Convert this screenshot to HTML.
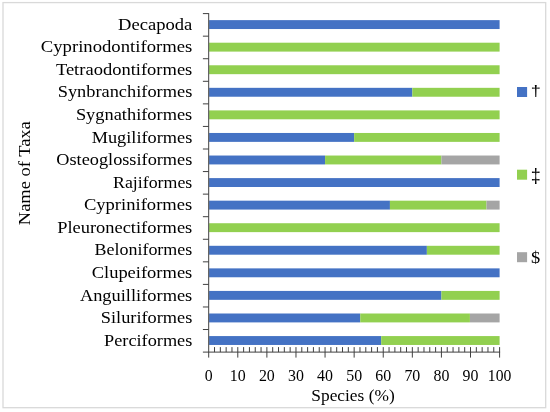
<!DOCTYPE html>
<html lang="en"><head><meta charset="utf-8"><title>Species by Taxa</title>
<style>html,body{margin:0;padding:0;background:#fff}body{width:550px;height:412px;overflow:hidden}svg{display:block}text{font-family:"Liberation Serif","Times New Roman",serif;fill:#000}</style></head><body>
<svg width="550" height="412" viewBox="0 0 550 412">
<rect x="0" y="0" width="550" height="412" fill="#fff"/>
<rect x="3" y="2.6" width="542.7" height="405.1" fill="none" stroke="#d9d9d9" stroke-width="1.3"/>
<rect x="209.10" y="20.13" width="290.50" height="8.90" fill="#4472C4"/>
<rect x="209.10" y="42.70" width="290.50" height="8.90" fill="#92D050"/>
<rect x="209.10" y="65.27" width="290.50" height="8.90" fill="#92D050"/>
<rect x="209.10" y="87.83" width="203.23" height="8.90" fill="#4472C4"/>
<rect x="412.33" y="87.83" width="87.27" height="8.90" fill="#92D050"/>
<rect x="209.10" y="110.40" width="290.50" height="8.90" fill="#92D050"/>
<rect x="209.10" y="132.97" width="145.05" height="8.90" fill="#4472C4"/>
<rect x="354.15" y="132.97" width="145.45" height="8.90" fill="#92D050"/>
<rect x="209.10" y="155.53" width="115.96" height="8.90" fill="#4472C4"/>
<rect x="325.06" y="155.53" width="116.36" height="8.90" fill="#92D050"/>
<rect x="441.42" y="155.53" width="58.18" height="8.90" fill="#A5A5A5"/>
<rect x="209.10" y="178.10" width="290.50" height="8.90" fill="#4472C4"/>
<rect x="209.10" y="200.67" width="180.83" height="8.90" fill="#4472C4"/>
<rect x="389.93" y="200.67" width="96.58" height="8.90" fill="#92D050"/>
<rect x="486.51" y="200.67" width="13.09" height="8.90" fill="#A5A5A5"/>
<rect x="209.10" y="223.23" width="290.50" height="8.90" fill="#92D050"/>
<rect x="209.10" y="245.80" width="217.78" height="8.90" fill="#4472C4"/>
<rect x="426.88" y="245.80" width="72.73" height="8.90" fill="#92D050"/>
<rect x="209.10" y="268.37" width="290.50" height="8.90" fill="#4472C4"/>
<rect x="209.10" y="290.93" width="232.32" height="8.90" fill="#4472C4"/>
<rect x="441.42" y="290.93" width="58.18" height="8.90" fill="#92D050"/>
<rect x="209.10" y="313.50" width="151.16" height="8.90" fill="#4472C4"/>
<rect x="360.26" y="313.50" width="109.67" height="8.90" fill="#92D050"/>
<rect x="469.93" y="313.50" width="29.67" height="8.90" fill="#A5A5A5"/>
<rect x="209.10" y="336.07" width="172.10" height="8.90" fill="#4472C4"/>
<rect x="381.20" y="336.07" width="118.40" height="8.90" fill="#92D050"/>
<g stroke="#404040" stroke-width="1" fill="none">
<line x1="208.7" y1="13.1" x2="208.7" y2="357.6"/>
<line x1="202.89999999999998" y1="352.1" x2="500.1" y2="352.1"/>
<line x1="202.89999999999998" y1="13.60" x2="208.7" y2="13.60"/>
<line x1="202.89999999999998" y1="36.17" x2="208.7" y2="36.17"/>
<line x1="202.89999999999998" y1="58.73" x2="208.7" y2="58.73"/>
<line x1="202.89999999999998" y1="81.30" x2="208.7" y2="81.30"/>
<line x1="202.89999999999998" y1="103.87" x2="208.7" y2="103.87"/>
<line x1="202.89999999999998" y1="126.43" x2="208.7" y2="126.43"/>
<line x1="202.89999999999998" y1="149.00" x2="208.7" y2="149.00"/>
<line x1="202.89999999999998" y1="171.57" x2="208.7" y2="171.57"/>
<line x1="202.89999999999998" y1="194.13" x2="208.7" y2="194.13"/>
<line x1="202.89999999999998" y1="216.70" x2="208.7" y2="216.70"/>
<line x1="202.89999999999998" y1="239.27" x2="208.7" y2="239.27"/>
<line x1="202.89999999999998" y1="261.83" x2="208.7" y2="261.83"/>
<line x1="202.89999999999998" y1="284.40" x2="208.7" y2="284.40"/>
<line x1="202.89999999999998" y1="306.97" x2="208.7" y2="306.97"/>
<line x1="202.89999999999998" y1="329.53" x2="208.7" y2="329.53"/>
<line x1="214.52" y1="347.1" x2="214.52" y2="352.1"/>
<line x1="220.34" y1="347.1" x2="220.34" y2="352.1"/>
<line x1="226.15" y1="347.1" x2="226.15" y2="352.1"/>
<line x1="231.97" y1="347.1" x2="231.97" y2="352.1"/>
<line x1="237.79" y1="347.1" x2="237.79" y2="357.6"/>
<line x1="243.61" y1="347.1" x2="243.61" y2="352.1"/>
<line x1="249.43" y1="347.1" x2="249.43" y2="352.1"/>
<line x1="255.24" y1="347.1" x2="255.24" y2="352.1"/>
<line x1="261.06" y1="347.1" x2="261.06" y2="352.1"/>
<line x1="266.88" y1="347.1" x2="266.88" y2="357.6"/>
<line x1="272.70" y1="347.1" x2="272.70" y2="352.1"/>
<line x1="278.52" y1="347.1" x2="278.52" y2="352.1"/>
<line x1="284.33" y1="347.1" x2="284.33" y2="352.1"/>
<line x1="290.15" y1="347.1" x2="290.15" y2="352.1"/>
<line x1="295.97" y1="347.1" x2="295.97" y2="357.6"/>
<line x1="301.79" y1="347.1" x2="301.79" y2="352.1"/>
<line x1="307.61" y1="347.1" x2="307.61" y2="352.1"/>
<line x1="313.42" y1="347.1" x2="313.42" y2="352.1"/>
<line x1="319.24" y1="347.1" x2="319.24" y2="352.1"/>
<line x1="325.06" y1="347.1" x2="325.06" y2="357.6"/>
<line x1="330.88" y1="347.1" x2="330.88" y2="352.1"/>
<line x1="336.70" y1="347.1" x2="336.70" y2="352.1"/>
<line x1="342.51" y1="347.1" x2="342.51" y2="352.1"/>
<line x1="348.33" y1="347.1" x2="348.33" y2="352.1"/>
<line x1="354.15" y1="347.1" x2="354.15" y2="357.6"/>
<line x1="359.97" y1="347.1" x2="359.97" y2="352.1"/>
<line x1="365.79" y1="347.1" x2="365.79" y2="352.1"/>
<line x1="371.60" y1="347.1" x2="371.60" y2="352.1"/>
<line x1="377.42" y1="347.1" x2="377.42" y2="352.1"/>
<line x1="383.24" y1="347.1" x2="383.24" y2="357.6"/>
<line x1="389.06" y1="347.1" x2="389.06" y2="352.1"/>
<line x1="394.88" y1="347.1" x2="394.88" y2="352.1"/>
<line x1="400.69" y1="347.1" x2="400.69" y2="352.1"/>
<line x1="406.51" y1="347.1" x2="406.51" y2="352.1"/>
<line x1="412.33" y1="347.1" x2="412.33" y2="357.6"/>
<line x1="418.15" y1="347.1" x2="418.15" y2="352.1"/>
<line x1="423.97" y1="347.1" x2="423.97" y2="352.1"/>
<line x1="429.78" y1="347.1" x2="429.78" y2="352.1"/>
<line x1="435.60" y1="347.1" x2="435.60" y2="352.1"/>
<line x1="441.42" y1="347.1" x2="441.42" y2="357.6"/>
<line x1="447.24" y1="347.1" x2="447.24" y2="352.1"/>
<line x1="453.06" y1="347.1" x2="453.06" y2="352.1"/>
<line x1="458.87" y1="347.1" x2="458.87" y2="352.1"/>
<line x1="464.69" y1="347.1" x2="464.69" y2="352.1"/>
<line x1="470.51" y1="347.1" x2="470.51" y2="357.6"/>
<line x1="476.33" y1="347.1" x2="476.33" y2="352.1"/>
<line x1="482.15" y1="347.1" x2="482.15" y2="352.1"/>
<line x1="487.96" y1="347.1" x2="487.96" y2="352.1"/>
<line x1="493.78" y1="347.1" x2="493.78" y2="352.1"/>
<line x1="499.60" y1="347.1" x2="499.60" y2="357.6"/>
</g>
<text x="118.0" y="29.78" font-size="16.5" textLength="74.3" lengthAdjust="spacingAndGlyphs">Decapoda</text>
<text x="40.8" y="52.35" font-size="16.5" textLength="151.5" lengthAdjust="spacingAndGlyphs">Cyprinodontiformes</text>
<text x="55.9" y="74.92" font-size="16.5" textLength="136.4" lengthAdjust="spacingAndGlyphs">Tetraodontiformes</text>
<text x="57.7" y="97.48" font-size="16.5" textLength="134.6" lengthAdjust="spacingAndGlyphs">Synbranchiformes</text>
<text x="75.9" y="120.05" font-size="16.5" textLength="116.4" lengthAdjust="spacingAndGlyphs">Sygnathiformes</text>
<text x="91.7" y="142.62" font-size="16.5" textLength="100.6" lengthAdjust="spacingAndGlyphs">Mugiliformes</text>
<text x="56.3" y="165.18" font-size="16.5" textLength="136.0" lengthAdjust="spacingAndGlyphs">Osteoglossiformes</text>
<text x="113.0" y="187.75" font-size="16.5" textLength="79.3" lengthAdjust="spacingAndGlyphs">Rajiformes</text>
<text x="83.9" y="210.32" font-size="16.5" textLength="108.4" lengthAdjust="spacingAndGlyphs">Cypriniformes</text>
<text x="57.2" y="232.88" font-size="16.5" textLength="135.1" lengthAdjust="spacingAndGlyphs">Pleuronectiformes</text>
<text x="94.5" y="255.45" font-size="16.5" textLength="97.8" lengthAdjust="spacingAndGlyphs">Beloniformes</text>
<text x="91.7" y="278.02" font-size="16.5" textLength="100.6" lengthAdjust="spacingAndGlyphs">Clupeiformes</text>
<text x="79.9" y="300.58" font-size="16.5" textLength="112.4" lengthAdjust="spacingAndGlyphs">Anguilliformes</text>
<text x="100.8" y="323.15" font-size="16.5" textLength="91.5" lengthAdjust="spacingAndGlyphs">Siluriformes</text>
<text x="104.1" y="345.72" font-size="16.5" textLength="88.2" lengthAdjust="spacingAndGlyphs">Perciformes</text>
<text x="204.75" y="381.2" font-size="16.8" textLength="7.9" lengthAdjust="spacingAndGlyphs">0</text>
<text x="229.84" y="381.2" font-size="16.8" textLength="15.9" lengthAdjust="spacingAndGlyphs">10</text>
<text x="258.93" y="381.2" font-size="16.8" textLength="15.9" lengthAdjust="spacingAndGlyphs">20</text>
<text x="288.02" y="381.2" font-size="16.8" textLength="15.9" lengthAdjust="spacingAndGlyphs">30</text>
<text x="317.11" y="381.2" font-size="16.8" textLength="15.9" lengthAdjust="spacingAndGlyphs">40</text>
<text x="346.20" y="381.2" font-size="16.8" textLength="15.9" lengthAdjust="spacingAndGlyphs">50</text>
<text x="375.29" y="381.2" font-size="16.8" textLength="15.9" lengthAdjust="spacingAndGlyphs">60</text>
<text x="404.38" y="381.2" font-size="16.8" textLength="15.9" lengthAdjust="spacingAndGlyphs">70</text>
<text x="433.47" y="381.2" font-size="16.8" textLength="15.9" lengthAdjust="spacingAndGlyphs">80</text>
<text x="462.56" y="381.2" font-size="16.8" textLength="15.9" lengthAdjust="spacingAndGlyphs">90</text>
<text x="487.85" y="381.2" font-size="16.8" textLength="23.5" lengthAdjust="spacingAndGlyphs">100</text>
<text x="311.3" y="400.7" font-size="16.5" textLength="83.4" lengthAdjust="spacingAndGlyphs">Species (%)</text>
<text transform="translate(30.4,225.2) rotate(-90)" x="0" y="0" font-size="16.5" textLength="104" lengthAdjust="spacingAndGlyphs">Name of Taxa</text>
<rect x="517" y="87.0" width="10.1" height="10" fill="#4472C4"/>
<rect x="517" y="169.7" width="10.1" height="10" fill="#92D050"/>
<rect x="517" y="252.2" width="10.1" height="10" fill="#A5A5A5"/>
<text transform="translate(530.7,95.8) scale(1.257,1)" font-size="14.4" style="font-family:'Liberation Sans',Arial,sans-serif">†</text>
<text transform="translate(530.7,183.3) scale(1.25,1.36)" font-size="14.4" style="font-family:'Liberation Sans',Arial,sans-serif">‡</text>
<text transform="translate(531.0,262.6) scale(1.08,1.02)" font-size="17.1">$</text>
</svg></body></html>
